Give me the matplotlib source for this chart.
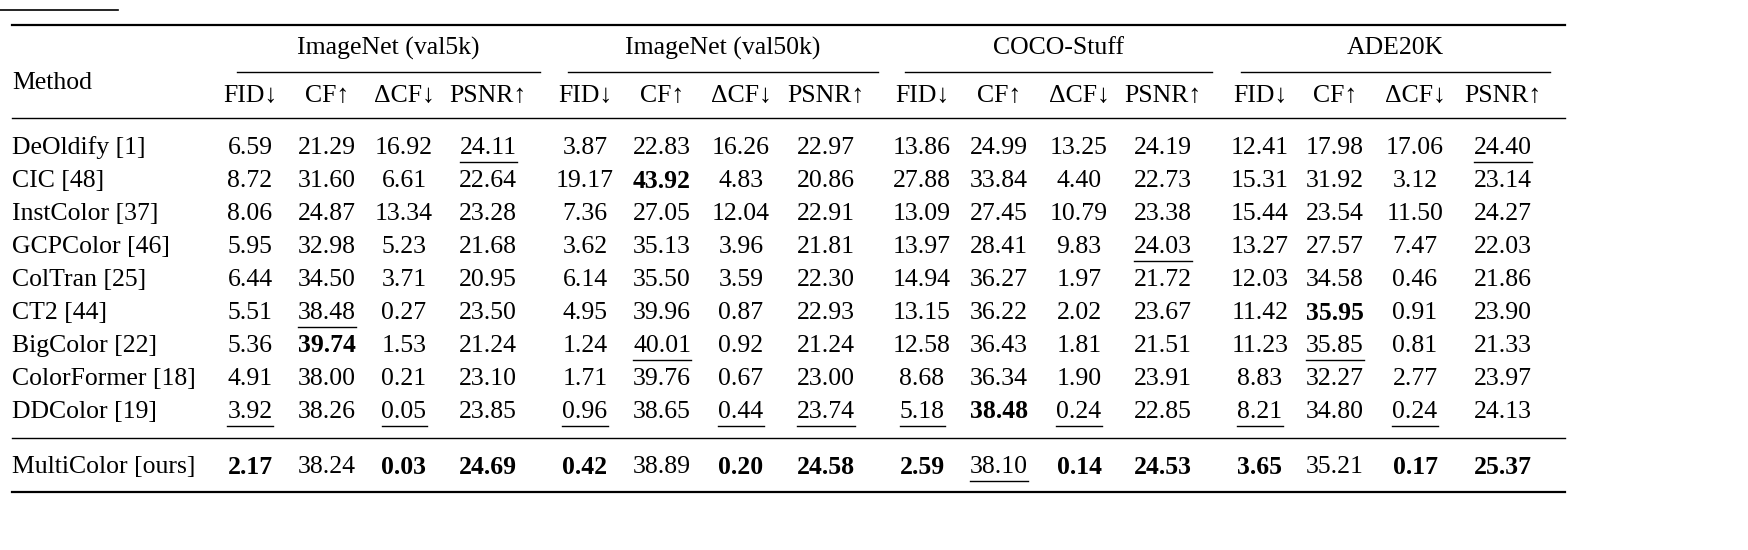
import matplotlib
matplotlib.use("Agg")
import matplotlib.pyplot as plt

methods = ["DeOldify [1]", "CIC [48]", "InstColor [37]", "GCPColor [46]", "ColTran [25]",
           "CT2 [44]", "BigColor [22]", "ColorFormer [18]", "DDColor [19]", "MultiColor [ours]"]
groups = ["ImageNet (val5k)", "ImageNet (val50k)", "COCO-Stuff", "ADE20K"]
metrics = ["FID↓", "CF↑", "ΔCF↓", "PSNR↑"]
# "b:" bold, "u:" underline
values = [
 ["6.59","21.29","16.92","u:24.11","3.87","22.83","16.26","22.97","13.86","24.99","13.25","24.19","12.41","17.98","17.06","u:24.40"],
 ["8.72","31.60","6.61","22.64","19.17","b:43.92","4.83","20.86","27.88","33.84","4.40","22.73","15.31","31.92","3.12","23.14"],
 ["8.06","24.87","13.34","23.28","7.36","27.05","12.04","22.91","13.09","27.45","10.79","23.38","15.44","23.54","11.50","24.27"],
 ["5.95","32.98","5.23","21.68","3.62","35.13","3.96","21.81","13.97","28.41","9.83","u:24.03","13.27","27.57","7.47","22.03"],
 ["6.44","34.50","3.71","20.95","6.14","35.50","3.59","22.30","14.94","36.27","1.97","21.72","12.03","34.58","0.46","21.86"],
 ["5.51","u:38.48","0.27","23.50","4.95","39.96","0.87","22.93","13.15","36.22","2.02","23.67","11.42","b:35.95","0.91","23.90"],
 ["5.36","b:39.74","1.53","21.24","1.24","u:40.01","0.92","21.24","12.58","36.43","1.81","21.51","11.23","u:35.85","0.81","21.33"],
 ["4.91","38.00","0.21","23.10","1.71","39.76","0.67","23.00","8.68","36.34","1.90","23.91","8.83","32.27","2.77","23.97"],
 ["u:3.92","38.26","u:0.05","23.85","u:0.96","38.65","u:0.44","u:23.74","u:5.18","b:38.48","u:0.24","22.85","u:8.21","34.80","u:0.24","24.13"],
 ["b:2.17","38.24","b:0.03","b:24.69","b:0.42","38.89","b:0.20","b:24.58","b:2.59","u:38.10","b:0.14","b:24.53","b:3.65","35.21","b:0.17","b:25.37"],
]

plt.rcParams['font.family'] = ['Liberation Serif', 'DejaVu Serif']
fig = plt.figure(figsize=(17.48, 5.5), dpi=100)
ax = fig.add_axes([0, 0, 1, 1])
ax.set_xlim(0, 1748); ax.set_ylim(550, 0); ax.axis('off')

fs = 18.5
col_x = [250, 327, 404, 488, 585, 662, 741, 826, 922, 999, 1079, 1163, 1260, 1335, 1415, 1503]
grp_x = [(237, 540), (568, 878), (905, 1212), (1241, 1550)]
row_y = [148, 181, 214, 247, 280, 313, 346, 379, 412, 467]

ax.plot([0, 118], [10, 10], color='black', lw=1.2)
ax.plot([12, 1565], [25, 25], color='black', lw=1.6)
ax.plot([12, 1565], [118, 118], color='black', lw=1.0)
ax.plot([12, 1565], [438, 438], color='black', lw=1.0)
ax.plot([12, 1565], [492, 492], color='black', lw=1.6)

ax.text(12, 83, "Method", fontsize=fs, va='center', ha='left')
for g, (a, b) in zip(groups, grp_x):
    ax.text((a + b) / 2, 48, g, fontsize=fs, va='center', ha='center')
    ax.plot([a, b], [72, 72], color='black', lw=1.0)
for i, x in enumerate(col_x):
    ax.text(x, 96, metrics[i % 4], fontsize=fs, va='center', ha='center')

r = fig.canvas.get_renderer()
for m, y, row in zip(methods, row_y, values):
    ax.text(12, y, m, fontsize=fs, va='center', ha='left')
    for x, v in zip(col_x, row):
        w = 'normal'
        if v.startswith('b:'):
            w = 'bold'; v = v[2:]
        und = v.startswith('u:')
        if und:
            v = v[2:]
        t = ax.text(x, y, v, fontsize=fs, va='center', ha='center', fontweight=w)
        if und:
            half = t.get_window_extent(r).width / 2
            ax.plot([x - half, x + half], [y + 14, y + 14], color='black', lw=1.0)

fig.savefig("out.png", dpi=100)
